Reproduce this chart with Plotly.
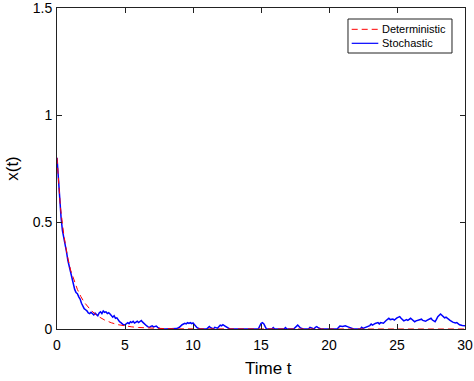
import plotly.graph_objects as go

# Deterministic solution
det_t = [0, 0.25, 0.5, 0.75, 1, 1.25, 1.5, 1.75, 2, 2.5, 3, 3.5, 4, 4.5, 5, 5.5, 6, 7, 8, 9, 10, 12, 15, 20, 25, 30]
det_x = [0.80, 0.57, 0.44, 0.345, 0.275, 0.225, 0.185, 0.152, 0.125, 0.087, 0.06, 0.042, 0.029, 0.02, 0.014,
         0.01, 0.007, 0.0035, 0.0017, 0.0008, 0.0004, 0.0001, 0, 0, 0, 0]

# Stochastic sample path
sto_t = [0, 0.1, 0.2, 0.3, 0.4, 0.5, 0.6, 0.7, 0.8, 0.9,
         1.0, 1.1, 1.2, 1.3, 1.4, 1.5, 1.6, 1.7, 1.8, 1.9,
         2.0, 2.1, 2.2, 2.3, 2.4, 2.5, 2.6, 2.7, 2.8, 2.9,
         3.0, 3.1, 3.2, 3.3, 3.4, 3.5, 3.6, 3.7, 3.8, 3.9,
         4.0, 4.1, 4.2, 4.3, 4.4, 4.5, 4.6, 4.7, 4.8, 4.9,
         5.0, 5.1, 5.2, 5.3, 5.4, 5.5, 5.6, 5.7, 5.8, 5.9,
         6.0, 6.1, 6.2, 6.3, 6.4, 6.5, 6.6, 6.7, 6.8, 6.9,
         7.0, 7.1, 7.2, 7.3, 7.4, 7.5, 7.6, 8.0, 8.5, 8.8,
         9.0, 9.2, 9.4, 9.5, 9.6, 9.7, 9.8, 9.9, 10.0, 10.1,
         10.2, 10.3, 10.5, 11.0, 11.2, 11.3, 11.5, 11.6, 11.8, 11.9,
         12.0, 12.1, 12.2, 12.3, 12.4, 12.5, 12.7, 14.8, 14.9, 15.0,
         15.1, 15.2, 15.3, 15.4, 15.8, 15.9, 16.0, 16.7, 16.8, 16.9,
         17.4, 17.6, 17.7, 17.8, 17.9, 18.1, 18.5, 18.6, 18.7, 18.9,
         19.0, 19.1, 19.2, 19.4, 20.6, 20.7, 20.8, 21.0, 21.2, 21.4,
         21.6, 21.8, 22.3, 22.4, 22.5, 22.6, 22.8, 23.0, 23.1, 23.2,
         23.4, 23.6, 23.7, 23.8, 24.0, 24.1, 24.2, 24.4, 24.5, 24.7,
         24.8, 25.0, 25.2, 25.3, 25.4, 25.5, 25.7, 25.8, 26.0, 26.1,
         26.3, 26.4, 26.6, 26.8, 26.9, 27.1, 27.2, 27.4, 27.5, 27.6,
         27.8, 27.9, 28.0, 28.2, 28.3, 28.5, 28.6, 28.8, 28.9, 29.1,
         29.3, 29.4, 29.6, 29.8, 30.0]
sto_x = [0.80, 0.70, 0.60, 0.52, 0.46, 0.43, 0.40, 0.36, 0.32, 0.29,
         0.265, 0.23, 0.20, 0.185, 0.17, 0.165, 0.15, 0.14, 0.12, 0.105,
         0.095, 0.09, 0.085, 0.075, 0.072, 0.078, 0.07, 0.066, 0.074, 0.068,
         0.062, 0.075, 0.08, 0.072, 0.084, 0.078, 0.08, 0.072, 0.076, 0.07,
         0.06, 0.055, 0.062, 0.05, 0.052, 0.04, 0.034, 0.03, 0.022, 0.018,
         0.02, 0.026, 0.03, 0.025, 0.034, 0.03, 0.036, 0.028, 0.032, 0.036,
         0.03, 0.035, 0.04, 0.032, 0.025, 0.02, 0.014, 0.01, 0.008, 0.012,
         0.015, 0.01, 0.012, 0.014, 0.008, 0.003, 0.0, 0.0, 0.0, 0.002,
         0.008, 0.02, 0.027, 0.024, 0.03, 0.026, 0.03, 0.025, 0.028, 0.02,
         0.012, 0.006, 0.0, 0.0, 0.012, 0.006, 0.0, 0.008, 0.004, 0.012,
         0.018, 0.015, 0.02, 0.016, 0.012, 0.008, 0.0, 0.0, 0.012, 0.026,
         0.03, 0.025, 0.012, 0.0, 0.0, 0.007, 0.0, 0.0, 0.007, 0.0,
         0.0, 0.012, 0.018, 0.012, 0.005, 0.0, 0.0, 0.008, 0.004, 0.0,
         0.008, 0.011, 0.006, 0.0, 0.0, 0.01, 0.014, 0.012, 0.015, 0.01,
         0.004, 0.0, 0.0, 0.008, 0.003, 0.006, 0.01, 0.016, 0.023, 0.018,
         0.026, 0.03, 0.024, 0.03, 0.027, 0.035, 0.04, 0.05, 0.044, 0.047,
         0.042, 0.052, 0.058, 0.05, 0.045, 0.038, 0.044, 0.04, 0.05, 0.045,
         0.034, 0.038, 0.042, 0.046, 0.04, 0.036, 0.04, 0.046, 0.05, 0.042,
         0.034, 0.045, 0.058, 0.07, 0.065, 0.052, 0.055, 0.042, 0.04, 0.032,
         0.028, 0.03, 0.02, 0.016, 0.015]

x_ticks = [0, 5, 10, 15, 20, 25, 30]
y_ticks = [0, 0.5, 1, 1.5]
y_tick_text = ["0", "0.5", "1", "1.5"]
legend_labels = ["Deterministic", "Stochastic"]
x_title = "Time t"
y_title = "x(t)"

RED = "#FF0000"
BLUE = "#0000FF"

fig = go.Figure()
fig.add_trace(go.Scatter(x=sto_t, y=sto_x, mode="lines", name=legend_labels[1],
                         line=dict(color=BLUE, width=1.5), showlegend=False, cliponaxis=False))
fig.add_trace(go.Scatter(x=det_t, y=det_x, mode="lines", name=legend_labels[0],
                         line=dict(color=RED, width=1, dash="6px,4px"), showlegend=False, cliponaxis=False))

axis_common = dict(showgrid=False, zeroline=False, showline=True, linecolor="#222222", linewidth=1,
                   mirror="ticks", ticks="inside", ticklen=5, tickcolor="#222222",
                   tickfont=dict(size=14, color="black"), automargin=False,
                   ticklabeloverflow="allow")

# Legend box drawn in MATLAB style
shapes = [
    dict(type="rect", xref="paper", yref="paper", x0=0.7132, x1=0.9681, y0=0.8598, y1=0.9657,
         line=dict(color="#222222", width=1), fillcolor="white", layer="above"),
    dict(type="line", xref="paper", yref="paper", x0=0.7223, x1=0.7875, y0=0.9336, y1=0.9336,
         line=dict(color=RED, width=1, dash="6px,4px"), layer="above"),
    dict(type="line", xref="paper", yref="paper", x0=0.7223, x1=0.7875, y0=0.8900, y1=0.8900,
         line=dict(color=BLUE, width=1.2), layer="above"),
]
annotations = [
    dict(xref="paper", yref="paper", x=0.797, y=0.9336, text=legend_labels[0], showarrow=False,
         xanchor="left", yanchor="middle", xshift=-2, font=dict(size=11, color="black")),
    dict(xref="paper", yref="paper", x=0.797, y=0.8900, text=legend_labels[1], showarrow=False,
         xanchor="left", yanchor="middle", xshift=-2, font=dict(size=11, color="black")),
    dict(xref="paper", yref="paper", x=0.5196, y=-0.1246, text=x_title, showarrow=False,
         xanchor="center", yanchor="middle", font=dict(size=17, color="black")),
]

fig.update_layout(
    width=474, height=381,
    margin=dict(l=57, r=9, t=8, b=52, autoexpand=False),
    paper_bgcolor="white", plot_bgcolor="white",
    font=dict(family="Arial, Liberation Sans, sans-serif", color="black"),
    xaxis=dict(range=[0, 30], tickvals=x_ticks, ticklabelstandoff=3, **axis_common),
    yaxis=dict(range=[0, 1.5], tickvals=y_ticks, ticktext=y_tick_text, ticklabelstandoff=1,
               title=dict(text=y_title, font=dict(size=17), standoff=9), **axis_common),
    shapes=shapes,
    annotations=annotations,
    showlegend=False,
)

fig.write_html("out.html", config={"displayModeBar": False},
               post_script="document.body.style.margin='0';document.body.style.overflow='hidden';")
